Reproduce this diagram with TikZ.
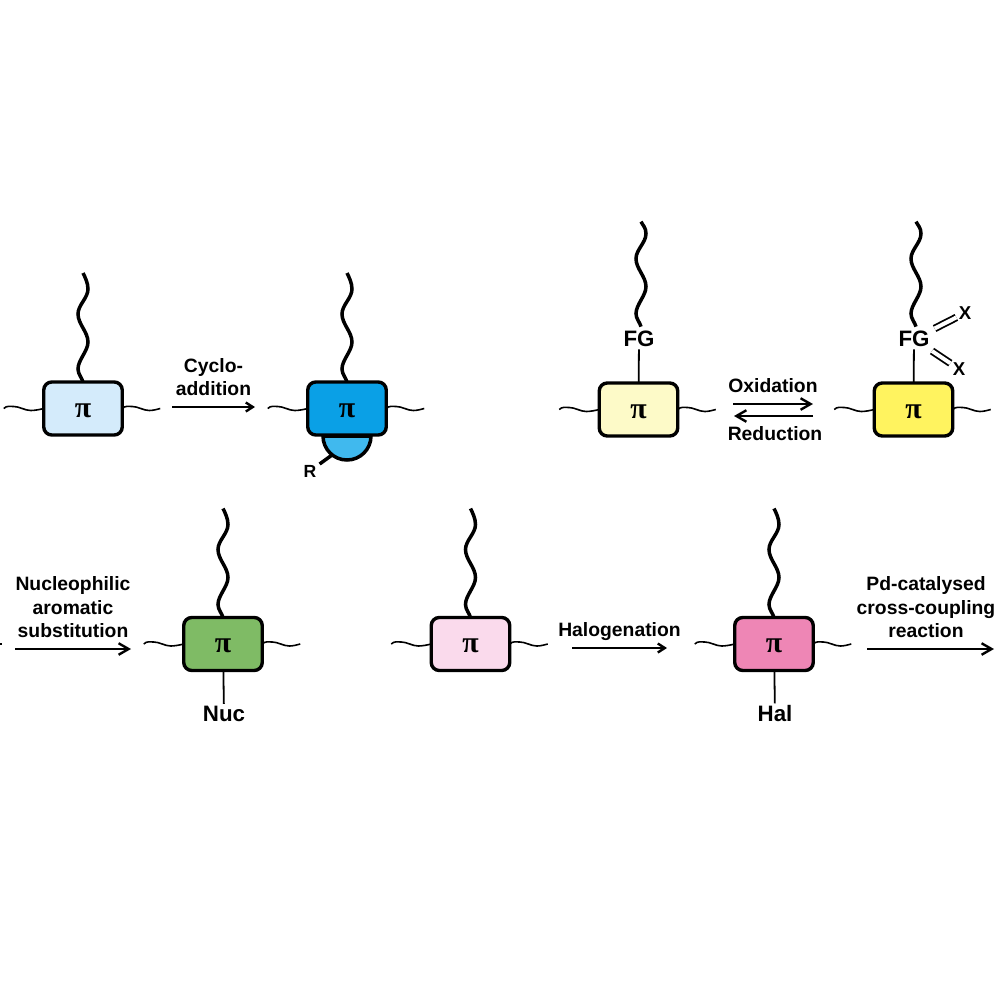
\documentclass[tikz,border=0pt]{standalone}
\usepackage{fontspec}
\setmainfont{Liberation Sans}
\newfontfamily\pifont{Liberation Serif}
\usetikzlibrary{arrows.meta,positioning}

\definecolor{bluepale}{HTML}{D4EBFB}
\definecolor{bluedeep}{HTML}{0AA0E6}
\definecolor{bluecap}{HTML}{40B9EE}
\definecolor{yellowpale}{HTML}{FDFAC8}
\definecolor{yellowdeep}{HTML}{FFF35F}
\definecolor{greendeep}{HTML}{7FBB65}
\definecolor{pinkpale}{HTML}{FADAEC}
\definecolor{pinkdeep}{HTML}{EE86B5}

% side chains and the long chain on top of a box
\newcommand{\sidewave}[1]{.. controls +(3,-3) and +(-4,0) .. ++(10,-2) .. controls +(6,0) and +(-6,0) .. ++(17,4) .. controls +(4,0) and +(-4,1) .. ++(#1,-2)}
\newcommand{\sidetails}[1]{
  \draw[tail] ([xshift=-4mm]#1.west) \sidewave{13};
  \draw[tail] (#1.east) \sidewave{11};
}
\newcommand{\longchain}[2][16]{
  \draw[chain] (#2) .. controls +(-1,-4) and +(0,5) .. ++(-5,-13)
    .. controls +(0,-9) and +(0,9) .. ++(10,-27)
    .. controls +(0,-10) and +(0,10) .. ++(-10,-28)
    .. controls +(0,-9) and +(0,9) .. ++(10,-25)
    .. controls +(0,-6) and +(2,4) .. ++(-5,-#1);
}

\begin{document}
\begin{tikzpicture}[x=0.1mm,y=-0.1mm,on grid,>={Straight Barb[length=1mm,width=1.15mm]},
    pibox/.style={draw,line width=0.34mm,rounded corners=0.8mm,minimum width=7.85mm,
      minimum height=5.3mm,inner sep=0pt,outer sep=0pt,text height=5pt,text depth=0pt,
      font=\pifont\bfseries\fontsize{8.5}{8.5}\selectfont},
    tail/.style={line width=0.16mm},
    chain/.style={line width=0.35mm},
    bond/.style={line width=0.18mm},
    rxn/.style={line width=0.24mm,->},
    rxntext/.style={font=\bfseries\fontsize{5.5}{6.7}\selectfont,align=center,text depth=0pt,inner ysep=1mm,inner xsep=0pt},
    group/.style={font=\bfseries\fontsize{6.35}{7}\selectfont,inner sep=0.5pt},
    small/.style={font=\bfseries\fontsize{5}{6}\selectfont,inner sep=0.5pt}]
   \useasboundingbox (0,0) rectangle (1000,1000);

   % top row, left
   \draw[chain,fill=bluecap] (323,436) arc[start angle=180,end angle=0,radius=24] -- cycle;
   \node[pibox,fill=bluepale] (pi_a) at (83,408.5) {π};
   \node[pibox,fill=bluedeep] (pi_b) [right=26.4mm of pi_a] {π};
   \sidetails{pi_a} \sidetails{pi_b}
   \longchain{pi_a.north} \longchain{pi_b.north}
   \coordinate (cy_s) at (172,407);
   \coordinate (cy_e) at (255,407);
   \path (cy_s) edge[rxn,>={Straight Barb[length=0.7mm,width=0.9mm]}] node[rxntext,above] {Cyclo-\\addition} (cy_e);
   \node[small] (r) at (310,471) {R};
   \coordinate (r_e) at (332,455);
   \draw[chain,shorten <=0.1mm] (r) -- (r_e);

   % top row, right
   \node[pibox,fill=yellowpale] (pi_c) at (638.5,409.5) {π};
   \node[pibox,fill=yellowdeep] (pi_d) [right=27.5mm of pi_c] {π};
   \sidetails{pi_c} \sidetails{pi_d}
   \node[group] (fg_c) at (639,339) {FG};
   \node[group] (fg_d) at (914,339) {FG};
   \draw[bond] (fg_c) -- (pi_c);
   \draw[bond] (fg_d) -- (pi_d);
   \longchain[12]{[xshift=0.2mm,yshift=0.2mm]fg_c.north} \longchain[12]{[xshift=0.2mm,yshift=0.2mm]fg_d.north}
   \node[small,font=\bfseries\fontsize{5.3}{6}\selectfont] (x_a) at (965,313) {X};
   \node[small,font=\bfseries\fontsize{5.3}{6}\selectfont] (x_b) at (959,369) {X};
   \draw[bond,double,double distance=0.4mm,shorten <=0.3mm] (fg_d) -- (x_a);
   \draw[bond,double,double distance=0.4mm,shorten <=0.3mm] (fg_d) -- (x_b);
   \coordinate (ox_s) at (733,404);
   \coordinate (ox_e) at (813,404);
   \coordinate (re_s) at (813,416);
   \coordinate (re_e) at (734,416);
   \path (ox_s) edge[rxn] node[rxntext,above] {Oxidation} (ox_e);
   \path (re_s) edge[rxn] node[rxntext,below,text height=3.9pt,xshift=0.15mm] {Reduction} (re_e);

   % bottom row
   \node[pibox,fill=greendeep] (pi_e) at (223,644) {π};
   \node[pibox,fill=pinkpale] (pi_f) at (470.5,644) {π};
   \node[pibox,fill=pinkdeep] (pi_g) at (774,644) {π};
   \sidetails{pi_e} \sidetails{pi_f} \sidetails{pi_g}
   \longchain{pi_e.north} \longchain{pi_f.north} \longchain{pi_g.north}
   \node[group] (nuc) at (224,714) {Nuc};
   \node[group] (hal) at (775,714) {Hal};
   \draw[bond] (pi_e) -- (nuc);
   \draw[bond] (pi_g) -- (hal);
   \coordinate (edge_s) at (0,644);
   \coordinate (edge_e) at (2,644);
   \draw[tail] (edge_s) -- (edge_e);
   \coordinate (nu_s) at (15,649);
   \coordinate (nu_e) at (131,649);
   \coordinate (ha_s) at (572,648);
   \coordinate (ha_e) at (667,648);
   \coordinate (pd_s) at (867,649);
   \coordinate (pd_e) at (994,649);
   \path (nu_s) edge[rxn] node[rxntext,above] {Nucleophilic\\aromatic\\substitution} (nu_e);
   \path (ha_s) edge[rxn,>={Straight Barb[length=0.7mm,width=0.9mm]}] node[rxntext,above] {Halogenation} (ha_e);
   \path (pd_s) edge[rxn] node[rxntext,above,xshift=-0.45mm] {Pd-catalysed\\cross-coupling\\reaction} (pd_e);
\end{tikzpicture}
\end{document}
